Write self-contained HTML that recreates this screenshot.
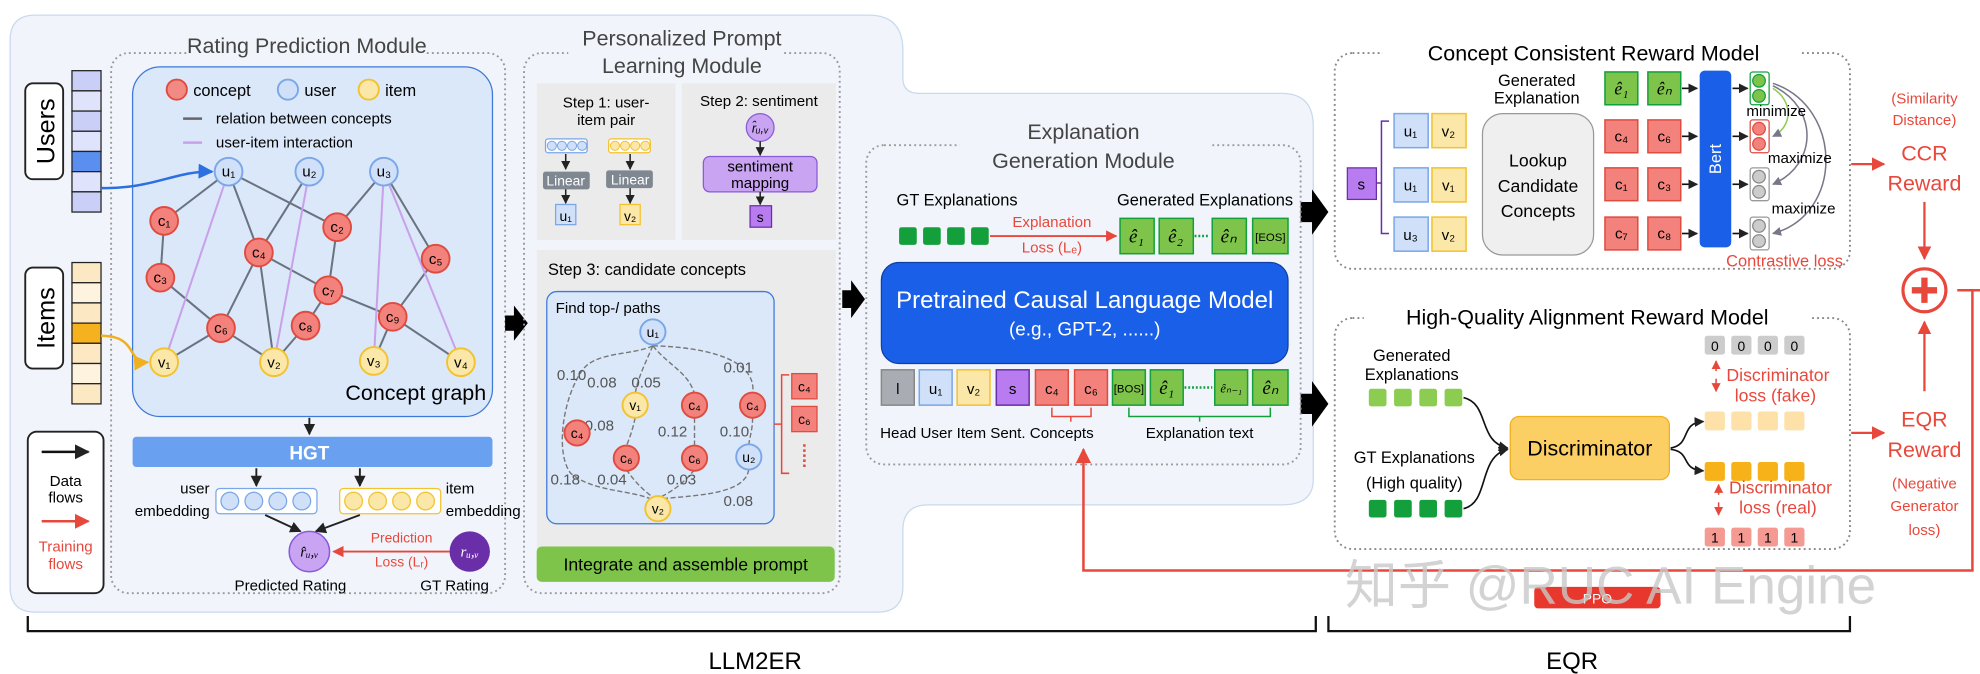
<!DOCTYPE html>
<html><head><meta charset="utf-8"><style>
html,body{margin:0;padding:0;background:#fff;}
svg{display:block;font-family:"Liberation Sans","Noto Sans CJK SC",sans-serif;}
</style></head><body>
<svg width="1980" height="674" viewBox="0 0 1568 534" preserveAspectRatio="none" xmlns="http://www.w3.org/2000/svg">
<defs>
<marker id="ab" viewBox="0 0 10 10" refX="9" refY="5" markerWidth="6" markerHeight="6" orient="auto"><path d="M0,0L10,5L0,10z" fill="#222"/></marker>
<marker id="ar" viewBox="0 0 10 10" refX="9" refY="5" markerWidth="6" markerHeight="6" orient="auto"><path d="M0,0L10,5L0,10z" fill="#e8483c"/></marker>
<marker id="abl" viewBox="0 0 10 10" refX="9" refY="5" markerWidth="6" markerHeight="6" orient="auto"><path d="M0,0L10,5L0,10z" fill="#2b6fe0"/></marker>
<marker id="ao" viewBox="0 0 10 10" refX="9" refY="5" markerWidth="6" markerHeight="6" orient="auto"><path d="M0,0L10,5L0,10z" fill="#f0b020"/></marker>
<marker id="ag" viewBox="0 0 10 10" refX="9" refY="5" markerWidth="6" markerHeight="6" orient="auto"><path d="M0,0L10,5L0,10z" fill="#778"/></marker>
</defs>
<path d="M28,12 H688 Q715,12 715,40 V62 Q715,74 728,74 H1015 Q1040,74 1040,100 V380 Q1040,400 1015,400 H735 Q715,400 715,420 V465 Q715,485 695,485 H28 Q8,485 8,465 V32 Q8,12 28,12 Z" fill="#f1f5fb" stroke="#c9d9ee" stroke-width="1"/>

<rect x="20" y="66" width="30" height="76" rx="6" fill="#fff" stroke="#222" stroke-width="1.5"/>
<text transform="translate(43,104) rotate(-90)" font-size="20" text-anchor="middle">Users</text>
<g stroke="#222" stroke-width="1">
<rect x="57" y="56" width="23" height="16" fill="#c9cff7"/><rect x="57" y="72" width="23" height="16" fill="#dfe3fb"/><rect x="57" y="88" width="23" height="16" fill="#c9cff7"/><rect x="57" y="104" width="23" height="16" fill="#dfe3fb"/><rect x="57" y="120" width="23" height="16" fill="#5a8ff0"/><rect x="57" y="136" width="23" height="16" fill="#dfe3fb"/><rect x="57" y="152" width="23" height="16" fill="#c9cff7"/>
</g>
<rect x="20" y="212" width="30" height="80" rx="6" fill="#fff" stroke="#222" stroke-width="1.5"/>
<text transform="translate(43,252) rotate(-90)" font-size="20" text-anchor="middle">Items</text>
<g stroke="#222" stroke-width="1">
<rect x="57" y="208" width="23" height="16" fill="#fde8c4"/><rect x="57" y="224" width="23" height="16" fill="#fef3de"/><rect x="57" y="240" width="23" height="16" fill="#fde8c4"/><rect x="57" y="256" width="23" height="16" fill="#f5b21e"/><rect x="57" y="272" width="23" height="16" fill="#fde8c4"/><rect x="57" y="288" width="23" height="16" fill="#fef3de"/><rect x="57" y="304" width="23" height="16" fill="#fde8c4"/>
</g>
<rect x="22" y="342" width="60" height="128" rx="7" fill="#fff" stroke="#222" stroke-width="1.5"/>
<line x1="33" y1="358" x2="70" y2="358" stroke="#111" stroke-width="2" marker-end="url(#ab)"/>
<text x="52" y="385" font-size="12" text-anchor="middle">Data</text><text x="52" y="398" font-size="12" text-anchor="middle">flows</text>
<line x1="33" y1="413" x2="70" y2="413" stroke="#e8483c" stroke-width="2" marker-end="url(#ar)"/>
<text x="52" y="437" font-size="12" text-anchor="middle" fill="#e8483c">Training</text><text x="52" y="451" font-size="12" text-anchor="middle" fill="#e8483c">flows</text>

<rect x="88" y="42" width="312" height="428" rx="14" fill="none" stroke="#999" stroke-width="1.5" stroke-dasharray="1.5,2.5"/>
<rect x="150" y="24" width="186" height="22" fill="#f1f5fb"/>
<text x="243" y="42" font-size="17" text-anchor="middle" fill="#444">Rating Prediction Module</text>
<rect x="105" y="53" width="285" height="277" rx="22" fill="#dbe8f9" stroke="#3d79d8" stroke-width="1"/>
<circle cx="140" cy="71" r="8" fill="#f28a84" stroke="#e04b40" stroke-width="1.5"/><text x="153" y="76" font-size="13">concept</text>
<circle cx="228" cy="71" r="8" fill="#cfe0f8" stroke="#7aa7e8" stroke-width="1.5"/><text x="241" y="76" font-size="13">user</text>
<circle cx="292" cy="71" r="8" fill="#fbe7a8" stroke="#f2c230" stroke-width="1.5"/><text x="305" y="76" font-size="13">item</text>
<line x1="145" y1="94" x2="160" y2="94" stroke="#666" stroke-width="2"/><text x="171" y="98" font-size="12">relation between concepts</text>
<line x1="145" y1="113" x2="160" y2="113" stroke="#c9a0ea" stroke-width="2"/><text x="171" y="117" font-size="12">user-item interaction</text>
<g stroke="#6a7380" stroke-width="1.6">
<line x1="181" y1="136" x2="130" y2="175"/><line x1="181" y1="136" x2="205" y2="200"/><line x1="181" y1="136" x2="267" y2="180"/>
<line x1="245" y1="136" x2="205" y2="200"/><line x1="304" y1="136" x2="267" y2="180"/><line x1="304" y1="136" x2="345" y2="205"/>
<line x1="130" y1="175" x2="127" y2="220"/><line x1="127" y1="220" x2="175" y2="260"/><line x1="205" y1="200" x2="175" y2="260"/>
<line x1="205" y1="200" x2="217" y2="287"/><line x1="205" y1="200" x2="260" y2="230"/><line x1="267" y1="180" x2="260" y2="230"/>
<line x1="260" y1="230" x2="242" y2="258"/><line x1="242" y1="258" x2="217" y2="287"/><line x1="260" y1="230" x2="311" y2="251"/>
<line x1="345" y1="205" x2="311" y2="251"/><line x1="311" y1="251" x2="296" y2="286"/><line x1="311" y1="251" x2="365" y2="287"/>
<line x1="175" y1="260" x2="130" y2="287"/><line x1="175" y1="260" x2="217" y2="287"/>
</g>
<g stroke="#c9a0ea" stroke-width="1.6">
<line x1="181" y1="136" x2="130" y2="287"/><line x1="245" y1="136" x2="217" y2="287"/><line x1="304" y1="136" x2="296" y2="286"/><line x1="304" y1="136" x2="365" y2="287"/>
</g>
<g font-size="12" text-anchor="middle">
<g fill="#cfe0f8" stroke="#7aa7e8" stroke-width="1.5"><circle cx="181" cy="136" r="11"/><circle cx="245" cy="136" r="11"/><circle cx="304" cy="136" r="11"/></g>
<text x="181" y="140">u₁</text><text x="245" y="140">u₂</text><text x="304" y="140">u₃</text>
<g fill="#f2827b" stroke="#e04b40" stroke-width="1.5"><circle cx="130" cy="175" r="11"/><circle cx="267" cy="180" r="11"/><circle cx="127" cy="220" r="11"/><circle cx="205" cy="200" r="11"/><circle cx="345" cy="205" r="11"/><circle cx="175" cy="260" r="11"/><circle cx="260" cy="230" r="11"/><circle cx="242" cy="258" r="11"/><circle cx="311" cy="251" r="11"/></g>
<text x="130" y="179">c₁</text><text x="267" y="184">c₂</text><text x="127" y="224">c₃</text><text x="205" y="204">c₄</text><text x="345" y="209">c₅</text><text x="175" y="264">c₆</text><text x="260" y="234">c₇</text><text x="242" y="262">c₈</text><text x="311" y="255">c₉</text>
<g fill="#fbe7a8" stroke="#f2c230" stroke-width="1.5"><circle cx="130" cy="287" r="11"/><circle cx="217" cy="287" r="11"/><circle cx="296" cy="286" r="11"/><circle cx="365" cy="287" r="11"/></g>
<text x="130" y="291">v₁</text><text x="217" y="291">v₂</text><text x="296" y="290">v₃</text><text x="365" y="291">v₄</text>
</g>
<text x="385" y="317" font-size="17" text-anchor="end">Concept graph</text>
<path d="M80,149 C120,150 140,135 168,136" fill="none" stroke="#2b6fe0" stroke-width="2" marker-end="url(#abl)"/>
<path d="M80,266 C110,266 100,288 117,287" fill="none" stroke="#f0b020" stroke-width="2" marker-end="url(#ao)"/>
<line x1="245" y1="331" x2="245" y2="344" stroke="#222" stroke-width="1.5" marker-end="url(#ab)"/>
<rect x="105" y="346" width="285" height="24" rx="3" fill="#6aa0f0"/>
<text x="245" y="364" font-size="15" font-weight="bold" fill="#fff" text-anchor="middle">HGT</text>
<line x1="203" y1="371" x2="203" y2="385" stroke="#222" stroke-width="1.5" marker-end="url(#ab)"/>
<line x1="285" y1="371" x2="285" y2="385" stroke="#222" stroke-width="1.5" marker-end="url(#ab)"/>
<rect x="171" y="387" width="80" height="20" rx="3" fill="#fff" stroke="#7aa7e8"/>
<g fill="#cfe0f8" stroke="#7aa7e8"><circle cx="182" cy="397" r="7"/><circle cx="201" cy="397" r="7"/><circle cx="220" cy="397" r="7"/><circle cx="239" cy="397" r="7"/></g>
<rect x="269" y="387" width="80" height="20" rx="3" fill="#fff" stroke="#f2c230"/>
<g fill="#fbe7a8" stroke="#f2c230"><circle cx="280" cy="397" r="7"/><circle cx="299" cy="397" r="7"/><circle cx="318" cy="397" r="7"/><circle cx="337" cy="397" r="7"/></g>
<text x="166" y="391" font-size="12" text-anchor="end">user</text><text x="166" y="409" font-size="12" text-anchor="end">embedding</text>
<text x="353" y="391" font-size="12">item</text><text x="353" y="409" font-size="12">embedding</text>
<line x1="210" y1="408" x2="238" y2="421" stroke="#222" stroke-width="1.5" marker-end="url(#ab)"/>
<line x1="285" y1="408" x2="250" y2="421" stroke="#222" stroke-width="1.5" marker-end="url(#ab)"/>
<circle cx="245" cy="437" r="16" fill="#c9a4f2" stroke="#8a5ad8" stroke-width="1.2"/>
<text x="245" y="441" font-size="12" font-style="italic" font-family="Liberation Serif" text-anchor="middle">r̂ᵤ,ᵥ</text>
<circle cx="372" cy="437" r="16" fill="#6a2fa8"/>
<text x="372" y="441" font-size="12" font-style="italic" font-family="Liberation Serif" fill="#fff" text-anchor="middle">rᵤ,ᵥ</text>
<line x1="356" y1="437" x2="264" y2="437" stroke="#e8483c" stroke-width="1.5" marker-end="url(#ar)"/>
<text x="318" y="430" font-size="11" fill="#e8483c" text-anchor="middle">Prediction</text>
<text x="318" y="449" font-size="11" fill="#e8483c" text-anchor="middle">Loss (Lᵣ)</text>
<text x="230" y="468" font-size="12" text-anchor="middle">Predicted Rating</text>
<text x="360" y="468" font-size="12" text-anchor="middle">GT Rating</text>

<g fill="#000">
<path d="M400,250 H407 V242 L418,256 L407,270 V262 H400 Z"/>
<path d="M667,230 H674 V222 L685,237 L674,252 V244 H667 Z"/>
<path d="M1030,160 H1039 V150 L1052,168 L1039,186 V176 H1030 Z"/>
<path d="M1030,312 H1039 V302 L1052,320 L1039,338 V328 H1030 Z"/>
</g>

<rect x="415" y="42" width="250" height="428" rx="14" fill="none" stroke="#999" stroke-width="1.5" stroke-dasharray="1.5,2.5"/>
<rect x="450" y="18" width="170" height="46" fill="#f1f5fb"/>
<text x="540" y="36" font-size="17" text-anchor="middle" fill="#444">Personalized Prompt</text>
<text x="540" y="58" font-size="17" text-anchor="middle" fill="#444">Learning Module</text>
<rect x="425" y="66" width="110" height="124" fill="#ebebeb"/>
<rect x="540" y="66" width="122" height="124" fill="#ebebeb"/>
<text x="480" y="85" font-size="12" text-anchor="middle">Step 1: user-</text>
<text x="480" y="99" font-size="12" text-anchor="middle">item pair</text>
<rect x="432" y="110" width="33" height="11" rx="2" fill="#fff" stroke="#7aa7e8"/>
<g fill="#cfe0f8" stroke="#7aa7e8" stroke-width="0.8"><circle cx="437" cy="115.5" r="3.6"/><circle cx="445" cy="115.5" r="3.6"/><circle cx="453" cy="115.5" r="3.6"/><circle cx="461" cy="115.5" r="3.6"/></g>
<rect x="482" y="110" width="33" height="11" rx="2" fill="#fff" stroke="#f2c230"/>
<g fill="#fbe7a8" stroke="#f2c230" stroke-width="0.8"><circle cx="487" cy="115.5" r="3.6"/><circle cx="495" cy="115.5" r="3.6"/><circle cx="503" cy="115.5" r="3.6"/><circle cx="511" cy="115.5" r="3.6"/></g>
<g stroke="#222" stroke-width="1.2"><line x1="448" y1="122" x2="448" y2="134" marker-end="url(#ab)"/><line x1="499" y1="122" x2="499" y2="134" marker-end="url(#ab)"/><line x1="448" y1="149" x2="448" y2="161" marker-end="url(#ab)"/><line x1="499" y1="149" x2="499" y2="161" marker-end="url(#ab)"/></g>
<rect x="430" y="136" width="37" height="14" rx="2" fill="#7f8791"/><text x="448" y="147" font-size="11" fill="#fff" text-anchor="middle">Linear</text>
<rect x="480" y="135" width="37" height="14" rx="2" fill="#7f8791"/><text x="499" y="146" font-size="11" fill="#fff" text-anchor="middle">Linear</text>
<rect x="440" y="162" width="16" height="16" fill="#cfe0f8" stroke="#7aa7e8"/><text x="448" y="175" font-size="11" text-anchor="middle">u₁</text>
<rect x="491" y="162" width="16" height="16" fill="#fbe7a8" stroke="#f2c230"/><text x="499" y="175" font-size="11" text-anchor="middle">v₂</text>
<text x="601" y="84" font-size="12" text-anchor="middle">Step 2: sentiment</text>
<circle cx="602" cy="101" r="11" fill="#c9a4f2" stroke="#8a5ad8"/><text x="602" y="105" font-size="10" font-style="italic" text-anchor="middle">r̂ᵤ,ᵥ</text>
<line x1="602" y1="112" x2="602" y2="123" stroke="#222" stroke-width="1.2" marker-end="url(#ab)"/>
<rect x="557" y="124" width="90" height="28" rx="5" fill="#c9a4f2" stroke="#8a5ad8"/>
<text x="602" y="136" font-size="12" text-anchor="middle">sentiment</text><text x="602" y="149" font-size="12" text-anchor="middle">mapping</text>
<line x1="602" y1="152" x2="602" y2="162" stroke="#222" stroke-width="1.2" marker-end="url(#ab)"/>
<rect x="594" y="163" width="17" height="17" fill="#b87cf0" stroke="#6a2fa8"/><text x="602" y="176" font-size="11" text-anchor="middle">s</text>
<rect x="425" y="198" width="237" height="256" fill="#ebebeb"/>
<text x="434" y="218" font-size="13">Step 3: candidate concepts</text>
<rect x="433" y="231" width="180" height="184" rx="8" fill="#dbe8f9" stroke="#3d79d8"/>
<text x="440" y="248" font-size="12">Find top-𝑙 paths</text>
<g fill="none" stroke="#777" stroke-width="1.1" stroke-dasharray="4,2">
<path d="M517,274 C500,282 470,278 460,295 C445,318 440,360 452,375 C470,390 500,388 517,396"/>
<path d="M517,274 C510,290 505,300 503,312 M503,331 C500,345 497,350 496,354 M496,372 C505,385 512,390 517,394"/>
<path d="M517,274 C530,290 545,295 550,312 M550,331 C550,345 550,350 550,354 M550,372 C540,385 530,390 523,394"/>
<path d="M517,274 C560,275 600,285 596,312 M596,331 C596,340 594,345 593,352 M593,372 C590,390 560,392 525,395"/>
</g>
<g font-size="12" fill="#555"><text x="441" y="301">0.10</text><text x="465" y="307">0.08</text><text x="500" y="307">0.05</text><text x="573" y="295">0.01</text>
<text x="463" y="341">0.08</text><text x="521" y="346">0.12</text><text x="570" y="346">0.10</text>
<text x="436" y="384">0.18</text><text x="473" y="384">0.04</text><text x="528" y="384">0.03</text><text x="573" y="401">0.08</text></g>
<g font-size="11" text-anchor="middle">
<circle cx="517" cy="263" r="10" fill="#cfe0f8" stroke="#7aa7e8" stroke-width="1.5"/><text x="517" y="267">u₁</text>
<circle cx="503" cy="321" r="10" fill="#fbe7a8" stroke="#f2c230" stroke-width="1.5"/><text x="503" y="325">v₁</text>
<g fill="#f2827b" stroke="#e04b40" stroke-width="1.5"><circle cx="457" cy="343" r="10"/><circle cx="550" cy="321" r="10"/><circle cx="596" cy="321" r="10"/><circle cx="496" cy="363" r="10"/><circle cx="550" cy="363" r="10"/></g>
<text x="457" y="347">c₄</text><text x="550" y="325">c₄</text><text x="596" y="325">c₄</text><text x="496" y="367">c₆</text><text x="550" y="367">c₆</text>
<circle cx="593" cy="362" r="10" fill="#cfe0f8" stroke="#7aa7e8" stroke-width="1.5"/><text x="593" y="366">u₂</text>
<circle cx="521" cy="403" r="10" fill="#fbe7a8" stroke="#f2c230" stroke-width="1.5"/><text x="521" y="407">v₂</text>
</g>
<path d="M625,297 H619 V375 H625 M619,336 H613" fill="none" stroke="#e8483c" stroke-width="1.2"/>
<rect x="627" y="296" width="20" height="20" fill="#f2827b" stroke="#e04b40"/><text x="637" y="310" font-size="11" text-anchor="middle">c₄</text>
<rect x="627" y="322" width="20" height="20" fill="#f2827b" stroke="#e04b40"/><text x="637" y="336" font-size="11" text-anchor="middle">c₆</text>
<line x1="637" y1="352" x2="637" y2="372" stroke="#e04b40" stroke-width="2" stroke-dasharray="2,2"/>
<rect x="425" y="433" width="236" height="28" rx="4" fill="#7ec44a"/>
<text x="543" y="452" font-size="14" text-anchor="middle">Integrate and assemble prompt</text>

<rect x="686" y="115" width="344" height="253" rx="14" fill="none" stroke="#999" stroke-width="1.5" stroke-dasharray="1.5,2.5"/>
<rect x="760" y="90" width="200" height="44" fill="#f1f5fb"/>
<text x="858" y="110" font-size="17" text-anchor="middle" fill="#444">Explanation</text>
<text x="858" y="133" font-size="17" text-anchor="middle" fill="#444">Generation Module</text>
<text x="710" y="163" font-size="13">GT Explanations</text>
<text x="1024" y="163" font-size="13" text-anchor="end">Generated Explanations</text>
<g fill="#13a03c"><rect x="712" y="180" width="14" height="14" rx="2"/><rect x="731" y="180" width="14" height="14" rx="2"/><rect x="750" y="180" width="14" height="14" rx="2"/><rect x="769" y="180" width="14" height="14" rx="2"/></g>
<line x1="784" y1="187" x2="884" y2="187" stroke="#e8483c" stroke-width="1.5" marker-end="url(#ar)"/>
<text x="833" y="180" font-size="12" fill="#e8483c" text-anchor="middle">Explanation</text>
<text x="833" y="200" font-size="12" fill="#e8483c" text-anchor="middle">Loss (Lₑ)</text>
<g fill="#7ec44a" stroke="#13a03c" stroke-width="1.2"><rect x="887" y="173" width="27" height="28"/><rect x="918" y="173" width="27" height="28"/><rect x="960" y="173" width="27" height="28"/><rect x="992" y="173" width="28" height="28"/></g>
<line x1="946" y1="187" x2="958" y2="187" stroke="#13a03c" stroke-width="2" stroke-dasharray="1.5,1.5"/>
<g font-family="Liberation Serif" font-style="italic" font-size="15" text-anchor="middle"><text x="900" y="192">ê₁</text><text x="931" y="192">ê₂</text><text x="973" y="192">êₙ</text></g>
<text x="1006" y="191" font-size="9" text-anchor="middle">[EOS]</text>
<rect x="698" y="208" width="322" height="80" rx="14" fill="#1a5fe8" stroke="#1040a0"/>
<text x="859" y="244" font-size="19" fill="#fff" text-anchor="middle">Pretrained Causal Language Model</text>
<text x="859" y="266" font-size="15" fill="#fff" text-anchor="middle">(e.g., GPT-2, ......)</text>
<g stroke-width="1.2">
<rect x="698" y="293" width="26" height="28" fill="#a9adb3" stroke="#888"/>
<rect x="728" y="293" width="26" height="28" fill="#cfe0f8" stroke="#7aa7e8"/>
<rect x="758" y="293" width="26" height="28" fill="#fbe7a8" stroke="#f2c230"/>
<rect x="789" y="293" width="26" height="28" fill="#b87cf0" stroke="#6a2fa8"/>
<rect x="820" y="293" width="26" height="28" fill="#f2827b" stroke="#e04b40"/>
<rect x="851" y="293" width="26" height="28" fill="#f2827b" stroke="#e04b40"/>
<g fill="#7ec44a" stroke="#13a03c"><rect x="881" y="293" width="26" height="28"/><rect x="911" y="293" width="26" height="28"/><rect x="962" y="293" width="26" height="28"/><rect x="992" y="293" width="28" height="28"/></g>
</g>
<line x1="938" y1="307" x2="960" y2="307" stroke="#13a03c" stroke-width="2" stroke-dasharray="1.5,1.5"/>
<g font-size="12" text-anchor="middle"><text x="711" y="312">l</text><text x="741" y="312">u₁</text><text x="771" y="312">v₂</text><text x="802" y="312">s</text><text x="833" y="312">c₄</text><text x="864" y="312">c₆</text></g>
<text x="894" y="311" font-size="9" text-anchor="middle">[BOS]</text>
<g font-family="Liberation Serif" font-style="italic" text-anchor="middle"><text x="924" y="312" font-size="15">ê₁</text><text x="975" y="311" font-size="10">êₙ₋₁</text><text x="1006" y="312" font-size="15">êₙ</text></g>
<path d="M833,323 V330 H864 V323 M848,330 V334" fill="none" stroke="#e8483c" stroke-width="1.2"/>
<path d="M894,323 V330 H1006 V323 M950,330 V334" fill="none" stroke="#13a03c" stroke-width="1.2"/>
<text x="697" y="347" font-size="12">Head User Item  Sent. Concepts</text>
<text x="950" y="347" font-size="12" text-anchor="middle">Explanation text</text>

<path d="M1568,230 H1550 M1562,230 V452 H858 V356" fill="none" stroke="#e8483c" stroke-width="2" marker-end="url(#ar)"/>
<rect x="1215" y="465" width="100" height="17" rx="3" fill="#e8372c"/>
<text x="1265" y="478" font-size="11" fill="#fff" text-anchor="middle">PPO</text>

<rect x="1057" y="42" width="408" height="171" rx="14" fill="none" stroke="#888" stroke-width="1.5" stroke-dasharray="1.5,2.5"/>
<rect x="1095" y="30" width="330" height="24" fill="#fff"/>
<text x="1262" y="48" font-size="17" text-anchor="middle">Concept Consistent Reward Model</text>
<rect x="1067" y="133" width="23" height="25" fill="#b87cf0" stroke="#6a2fa8"/><text x="1078" y="150" font-size="12" text-anchor="middle">s</text>
<path d="M1100,96 H1094 V185 H1100 M1094,145 H1090" fill="none" stroke="#6a2fa8" stroke-width="1.2"/>
<g stroke-width="1.2">
<rect x="1104" y="90" width="27" height="27" fill="#cfe0f8" stroke="#7aa7e8"/><rect x="1134" y="90" width="27" height="27" fill="#fbe7a8" stroke="#f2c230"/>
<rect x="1104" y="133" width="27" height="27" fill="#cfe0f8" stroke="#7aa7e8"/><rect x="1134" y="133" width="27" height="27" fill="#fbe7a8" stroke="#f2c230"/>
<rect x="1104" y="172" width="27" height="27" fill="#cfe0f8" stroke="#7aa7e8"/><rect x="1134" y="172" width="27" height="27" fill="#fbe7a8" stroke="#f2c230"/>
</g>
<g font-size="12" text-anchor="middle"><text x="1117" y="108">u₁</text><text x="1147" y="108">v₂</text><text x="1117" y="151">u₁</text><text x="1147" y="151">v₁</text><text x="1117" y="190">u₃</text><text x="1147" y="190">v₂</text></g>
<rect x="1174" y="90" width="88" height="112" rx="16" fill="#efefef" stroke="#999"/>
<g font-size="14" text-anchor="middle"><text x="1218" y="132">Lookup</text><text x="1218" y="152">Candidate</text><text x="1218" y="172">Concepts</text></g>
<text x="1217" y="68" font-size="13" text-anchor="middle">Generated</text><text x="1217" y="82" font-size="13" text-anchor="middle">Explanation</text>
<g fill="#7ec44a" stroke="#13a03c" stroke-width="1.2"><rect x="1271" y="57" width="26" height="26"/><rect x="1305" y="57" width="26" height="26"/></g>
<g font-family="Liberation Serif" font-style="italic" font-size="14" text-anchor="middle"><text x="1284" y="75">ê₁</text><text x="1318" y="75">êₙ</text></g>
<g fill="#f2827b" stroke="#e04b40" stroke-width="1.2"><rect x="1271" y="95" width="26" height="26"/><rect x="1305" y="95" width="26" height="26"/><rect x="1271" y="133" width="26" height="26"/><rect x="1305" y="133" width="26" height="26"/><rect x="1271" y="172" width="26" height="26"/><rect x="1305" y="172" width="26" height="26"/></g>
<g font-size="12" text-anchor="middle"><text x="1284" y="112">c₄</text><text x="1318" y="112">c₆</text><text x="1284" y="150">c₁</text><text x="1318" y="150">c₃</text><text x="1284" y="189">c₇</text><text x="1318" y="189">c₈</text></g>
<g stroke="#111" stroke-width="1.3"><line x1="1332" y1="70" x2="1344" y2="70" marker-end="url(#ab)"/><line x1="1332" y1="108" x2="1344" y2="108" marker-end="url(#ab)"/><line x1="1332" y1="146" x2="1344" y2="146" marker-end="url(#ab)"/><line x1="1332" y1="185" x2="1344" y2="185" marker-end="url(#ab)"/>
<line x1="1372" y1="70" x2="1384" y2="70" marker-end="url(#ab)"/><line x1="1372" y1="108" x2="1384" y2="108" marker-end="url(#ab)"/><line x1="1372" y1="146" x2="1384" y2="146" marker-end="url(#ab)"/><line x1="1372" y1="185" x2="1384" y2="185" marker-end="url(#ab)"/></g>
<rect x="1346" y="56" width="25" height="140" rx="4" fill="#1a5fe8"/>
<text transform="translate(1363,126) rotate(-90)" font-size="13" fill="#fff" text-anchor="middle">Bert</text>
<rect x="1386" y="57" width="15" height="26" rx="2" fill="#fff" stroke="#13a03c"/><circle cx="1393" cy="64" r="5" fill="#7ec44a" stroke="#13a03c"/><circle cx="1393" cy="76" r="5" fill="#7ec44a" stroke="#13a03c"/>
<rect x="1386" y="95" width="15" height="26" rx="2" fill="#fff" stroke="#e04b40"/><circle cx="1393" cy="102" r="5" fill="#f2827b" stroke="#e04b40"/><circle cx="1393" cy="114" r="5" fill="#f2827b" stroke="#e04b40"/>
<rect x="1386" y="133" width="15" height="26" rx="2" fill="#fff" stroke="#999"/><circle cx="1393" cy="140" r="5" fill="#ccc" stroke="#888"/><circle cx="1393" cy="152" r="5" fill="#ccc" stroke="#888"/>
<rect x="1386" y="172" width="15" height="26" rx="2" fill="#fff" stroke="#999"/><circle cx="1393" cy="179" r="5" fill="#ccc" stroke="#888"/><circle cx="1393" cy="191" r="5" fill="#ccc" stroke="#888"/>
<path d="M1404,70 C1420,80 1420,100 1404,108" fill="none" stroke="#8ccc50" stroke-width="1.2" marker-end="url(#ag)"/>
<path d="M1404,68 C1440,85 1440,130 1404,146" fill="none" stroke="#778" stroke-width="1.2" marker-end="url(#ag)"/>
<path d="M1404,66 C1460,85 1460,170 1404,185" fill="none" stroke="#778" stroke-width="1.2" marker-end="url(#ag)"/>
<g font-size="12"><text x="1383" y="92">minimize</text><text x="1400" y="129">maximize</text><text x="1403" y="169">maximize</text></g>
<text x="1367" y="211" font-size="13" fill="#e8483c">Contrastive loss</text>

<g fill="#e8483c" text-anchor="middle">
<text x="1524" y="82" font-size="12">(Similarity</text><text x="1524" y="99" font-size="12">Distance)</text>
<text x="1524" y="127" font-size="17">CCR</text><text x="1524" y="151" font-size="17">Reward</text>
<text x="1524" y="338" font-size="17">EQR</text><text x="1524" y="362" font-size="17">Reward</text>
<text x="1524" y="387" font-size="12">(Negative</text><text x="1524" y="405" font-size="12">Generator</text><text x="1524" y="424" font-size="12">loss)</text>
</g>
<g stroke="#e8483c" stroke-width="1.8"><line x1="1466" y1="130" x2="1492" y2="130" marker-end="url(#ar)"/><line x1="1466" y1="343" x2="1492" y2="343" marker-end="url(#ar)"/><line x1="1524" y1="160" x2="1524" y2="205" marker-end="url(#ar)"/><line x1="1524" y1="310" x2="1524" y2="255" marker-end="url(#ar)"/></g>
<circle cx="1524" cy="230" r="17" fill="#fff" stroke="#e8483c" stroke-width="2.5"/>
<path d="M1524,220 V240 M1514,230 H1534" stroke="#e8483c" stroke-width="5"/>

<rect x="1057" y="252" width="408" height="183" rx="14" fill="none" stroke="#888" stroke-width="1.5" stroke-dasharray="1.5,2.5"/>
<rect x="1080" y="240" width="355" height="24" fill="#fff"/>
<text x="1257" y="257" font-size="17" text-anchor="middle">High-Quality Alignment Reward Model</text>
<text x="1118" y="286" font-size="13" text-anchor="middle">Generated</text><text x="1118" y="301" font-size="13" text-anchor="middle">Explanations</text>
<g fill="#8ccc50"><rect x="1084" y="308" width="14" height="14" rx="2"/><rect x="1104" y="308" width="14" height="14" rx="2"/><rect x="1124" y="308" width="14" height="14" rx="2"/><rect x="1144" y="308" width="14" height="14" rx="2"/></g>
<text x="1120" y="367" font-size="13" text-anchor="middle">GT Explanations</text><text x="1120" y="387" font-size="13" text-anchor="middle">(High quality)</text>
<g fill="#13a03c"><rect x="1084" y="396" width="14" height="14" rx="2"/><rect x="1104" y="396" width="14" height="14" rx="2"/><rect x="1124" y="396" width="14" height="14" rx="2"/><rect x="1144" y="396" width="14" height="14" rx="2"/></g>
<path d="M1159,315 C1180,320 1170,350 1194,355" fill="none" stroke="#111" stroke-width="1.3" marker-end="url(#ab)"/>
<path d="M1159,403 C1180,398 1170,362 1194,356" fill="none" stroke="#111" stroke-width="1.3" marker-end="url(#ab)"/>
<rect x="1196" y="330" width="126" height="50" rx="7" fill="#fbcf64" stroke="#f0b020"/>
<text x="1259" y="361" font-size="17" text-anchor="middle">Discriminator</text>
<path d="M1323,355 C1340,352 1330,335 1349,334" fill="none" stroke="#111" stroke-width="1.3" marker-end="url(#ab)"/>
<path d="M1323,356 C1340,358 1330,372 1349,373" fill="none" stroke="#111" stroke-width="1.3" marker-end="url(#ab)"/>
<g fill="#fde1a8"><rect x="1350" y="326" width="16" height="15" rx="2"/><rect x="1371" y="326" width="16" height="15" rx="2"/><rect x="1392" y="326" width="16" height="15" rx="2"/><rect x="1413" y="326" width="16" height="15" rx="2"/></g>
<g fill="#f7b21a"><rect x="1350" y="366" width="16" height="15" rx="2"/><rect x="1371" y="366" width="16" height="15" rx="2"/><rect x="1392" y="366" width="16" height="15" rx="2"/><rect x="1413" y="366" width="16" height="15" rx="2"/></g>
<g fill="#ccc"><rect x="1350" y="266" width="16" height="15" rx="2"/><rect x="1371" y="266" width="16" height="15" rx="2"/><rect x="1392" y="266" width="16" height="15" rx="2"/><rect x="1413" y="266" width="16" height="15" rx="2"/></g>
<g fill="#f49a92"><rect x="1350" y="418" width="16" height="15" rx="2"/><rect x="1371" y="418" width="16" height="15" rx="2"/><rect x="1392" y="418" width="16" height="15" rx="2"/><rect x="1413" y="418" width="16" height="15" rx="2"/></g>
<g font-size="11" text-anchor="middle"><text x="1358" y="278">0</text><text x="1379" y="278">0</text><text x="1400" y="278">0</text><text x="1421" y="278">0</text><text x="1358" y="430">1</text><text x="1379" y="430">1</text><text x="1400" y="430">1</text><text x="1421" y="430">1</text></g>
<g stroke="#e8483c" stroke-width="1.2"><line x1="1359" y1="294" x2="1359" y2="286" marker-end="url(#ar)"/><line x1="1359" y1="300" x2="1359" y2="310" marker-end="url(#ar)"/><line x1="1361" y1="392" x2="1361" y2="384" marker-end="url(#ar)"/><line x1="1361" y1="398" x2="1361" y2="408" marker-end="url(#ar)"/></g>
<g fill="#e8483c" font-size="14" text-anchor="middle"><text x="1408" y="302">Discriminator</text><text x="1406" y="318">loss (fake)</text><text x="1410" y="391">Discriminator</text><text x="1408" y="407">loss (real)</text></g>

<text x="1065" y="478" font-size="42" fill="#c8c8c8" fill-opacity="0.8" font-family="Liberation Sans, Noto Sans CJK SC, sans-serif">知乎 @RUC AI Engine</text>

<path d="M22,488 V500 H1042 V488" fill="none" stroke="#111" stroke-width="1.8"/>
<path d="M1052,488 V500 H1465 V488" fill="none" stroke="#111" stroke-width="1.8"/>
<text x="598" y="530" font-size="19" text-anchor="middle">LLM2ER</text>
<text x="1245" y="530" font-size="19" text-anchor="middle">EQR</text>
</svg>
</body></html>
